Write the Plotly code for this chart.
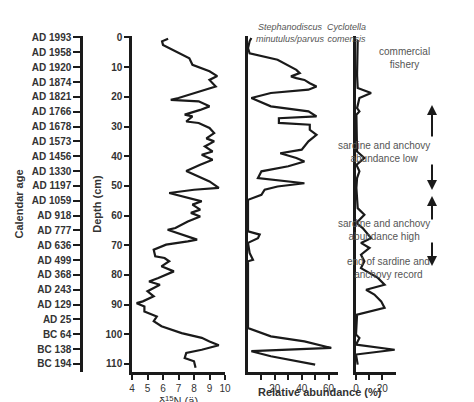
import plotly.graph_objects as go

W, H = 474, 402

# calendar age labels every 5 cm
age_depth = list(range(0, 111, 5))
age_labels = ["AD 1993", "AD 1958", "AD 1920", "AD 1874", "AD 1821", "AD 1766", "AD 1678",
              "AD 1573", "AD 1456", "AD 1330", "AD 1197", "AD 1059", "AD 918", "AD 777",
              "AD 636", "AD 499", "AD 368", "AD 243", "AD 129", "AD 25", "BC 64", "BC 138", "BC 194"]

# d15N profile
n15_val = [6.33, 5.94, 6.0, 6.8, 7.7, 7.9, 8.4, 9.0, 9.5, 9.0, 9.4, 8.4, 7.6, 7.0, 6.5, 8.3, 9.0, 8.4,
           7.4, 7.9, 7.5, 8.3, 9.0, 9.3, 8.8, 9.3, 8.7, 9.2, 8.5, 9.2, 8.4, 7.5, 8.0, 9.0, 9.6, 8.0,
           6.4, 7.6, 8.5, 7.9, 8.4, 7.8, 8.4, 7.6, 6.8, 6.3, 7.2, 8.2, 7.6, 6.2, 5.4, 5.5, 6.1, 6.4,
           5.9, 6.7, 5.7, 5.1, 5.8, 5.0, 5.4, 4.7, 4.3, 4.8, 4.8, 5.6, 5.4, 5.9, 7.2, 8.5, 9.0, 9.6,
           8.5, 7.5, 7.4, 8.0, 8.1]
n15_depth = [0.4, 1.3, 2.5, 4.7, 7, 9.2, 10.3, 11.4, 13, 14.3, 16.5, 18.2, 19.3, 20.4, 21, 21.5, 23.2,
             24.4, 26, 26.6, 28.3, 28.8, 30.5, 32.2, 34, 35, 36.7, 38.4, 39.5, 41.2, 42.9, 45, 46.2,
             48.5, 50.7, 51.3, 52.4, 54, 55.2, 56.3, 58, 59.1, 60.3, 62, 64.2, 64.8, 66.4, 68.1, 68.7,
             69.8, 71.5, 73.7, 74.3, 75.4, 77.1, 78.8, 81, 82.2, 83.3, 85.5, 87.2, 88.9, 89.5, 90.6,
             92.3, 94, 95.6, 97.3, 99.6, 101.2, 102.4, 103.7, 105.2, 106.3, 108, 109.1, 111.3]

# Stephanodiscus minutulus/parvus (%)
steph_val = [2.5, 1.2, 0, 1.2, 22, 32, 36, 38.5, 32, 36, 42, 46, 51, 45, 17, 2.5, 17, 45, 51, 23, 23,
             46, 46, 51, 45, 40, 24, 36, 42, 30, 10, 7.4, 30, 42, 22, 12.4, 10, 0, 0, 8.7, 7.4, 0,
             1.2, 3.7, 0, 0, 17, 42, 62, 2.5, 17, 50]
steph_depth = [0.2, 1.3, 3.6, 5.3, 7.5, 9.8, 10.9, 12, 13.1, 13.7, 14.3, 15.4, 16.5, 17.6, 18.7, 20.4,
               23.2, 24.9, 26.6, 27.2, 28.8, 29.4, 31.1, 32.8, 35, 37.8, 39, 40.6, 41.8, 43.4, 45.1,
               47.4, 48.5, 49.1, 50.2, 51.3, 53, 54.7, 65.3, 66.4, 67.6, 69.2, 72.6, 74.9, 75.4, 97.9,
               100.7, 102.4, 104.6, 105.7, 107.4, 110.2]

# Cyclotella comensis (%)
cyc_val = [1.3, 0.8, 1.3, 11.5, 2.6, 0.8, 2.6, 0.3, 0.8, 6.4, 0.3, 2.6, 0.8, 0.3, 1.3, 6.4, 0.3, 5.1,
           11.5, 3.8, 10.3, 3.8, 6.4, 3.8, 16.7, 21.8, 7.7, 14, 19.2, 21.8, 0.8, 0, 2.6, 0, 29.5, 0, 1.3]
cyc_depth = [0.8, 12.6, 17, 18.7, 20.4, 23.8, 24.9, 26, 38.4, 40.6, 42.9, 45.1, 47.4, 50.7, 57.5, 59.7,
             62.5, 64.2, 67.6, 69.2, 70.9, 73.2, 75.4, 77.7, 81, 83.3, 85, 86.6, 88.9, 91.1, 93.4,
             100.1, 101.2, 103.5, 105.2, 106.8, 110.2]


def px(x):
    return x / W


def py(y):
    return 1 - y / H


FONT = "Liberation Sans"
line = dict(color="#1a1a1a", width=2.2)
yrange = [112.7, -0.5]
ydom = [py(364), py(28)]

fig = go.Figure()
fig.add_trace(go.Scatter(x=n15_val, y=n15_depth, mode="lines", line=line, xaxis="x", yaxis="y"))
# invisible trace so the calendar age axis gets drawn
fig.add_trace(go.Scatter(x=[None], y=[None], mode="lines", xaxis="x", yaxis="y2", hoverinfo="skip"))
fig.add_trace(go.Scatter(x=steph_val, y=steph_depth, mode="lines", line=line, xaxis="x2", yaxis="y3"))
fig.add_trace(go.Scatter(x=cyc_val, y=cyc_depth, mode="lines", line=line, xaxis="x3", yaxis="y4"))

ax = dict(showline=True, linecolor="#1a1a1a", linewidth=2.5, ticks="outside", ticklen=5,
          tickwidth=2, tickcolor="#1a1a1a", showgrid=False, zeroline=False, automargin=False,
          tickfont=dict(family=FONT, size=10, color="#333"))
boldtick = dict(family=FONT, size=10, color="#333", weight="bold")

fig.update_layout(
    width=W, height=H, margin=dict(l=0, r=0, t=0, b=0, autoexpand=False), showlegend=False,
    plot_bgcolor="white", paper_bgcolor="white",
    font=dict(family=FONT, color="#333"),
    xaxis=dict(ax, domain=[px(124), px(217)], range=[4, 10], dtick=1, anchor="y",
               title=dict(text="δ<sup>15</sup>N (ä)", standoff=0, font=dict(size=11))),
    yaxis=dict(ax, domain=ydom, range=yrange, dtick=10, anchor="x", tickfont=boldtick,
               title=dict(text="<b>Depth (cm)</b>", standoff=2, font=dict(size=11))),
    yaxis2=dict(ax, domain=ydom, range=yrange, overlaying="y", anchor="free", side="left",
                position=px(73), tickvals=age_depth, ticktext=age_labels, ticklen=7,
                tickfont=boldtick,
                title=dict(text="<b>Calendar age</b>", standoff=4, font=dict(size=11))),
    xaxis2=dict(ax, domain=[px(240), px(330)], range=[0, 67], tickvals=[10, 20, 30, 40, 50, 60],
                ticktext=["", "20", "", "40", "", "60"], anchor="y3"),
    yaxis3=dict(ax, domain=ydom, range=yrange, anchor="x2", ticks="", showticklabels=False),
    xaxis3=dict(ax, domain=[px(348), px(388)], range=[0, 30.5], tickvals=[0, 10, 20],
                ticktext=["0", "", "20"], anchor="y4"),
    yaxis4=dict(ax, domain=ydom, range=yrange, anchor="x3", ticks="", showticklabels=False),
)

gray = dict(family=FONT, size=10, color="#555")
notes = [
    ("<i>Stephanodiscus<br>minutulus/parvus</i>", 282, 12, 9),
    ("<i>Cyclotella<br>comensis</i>", 360, 12, 9),
    ("commercial<br>fishery", 424, 36, 10),
    ("sardine and anchovy<br>abundance low", 424, 144, 10),
    ("sardine and anchovy<br>abundance high", 424, 222, 10),
    ("end of sardine and<br>anchovy record", 424, 274, 10),
]
for text, x, y, s in notes:
    fig.add_annotation(text=text, x=px(x), y=py(y), xref="paper", yref="paper",
                       showarrow=False, font=dict(gray, size=s), align="center")
fig.add_annotation(text="<b>Relative abundance (%)</b>", x=px(312), y=py(392), xref="paper",
                   yref="paper", showarrow=False, font=dict(family=FONT, size=11, color="#333"))

# arrows: (head y, tail y)
for head, tail in [(97, 130), (182, 155), (188, 213), (258, 233)]:
    fig.add_annotation(text="", x=px(424), y=py(head), xref="paper", yref="paper",
                       ax=0, ay=tail - head, showarrow=True, arrowhead=2, arrowsize=1,
                       arrowwidth=2, arrowcolor="#1a1a1a")

fig.write_html("out.html")
